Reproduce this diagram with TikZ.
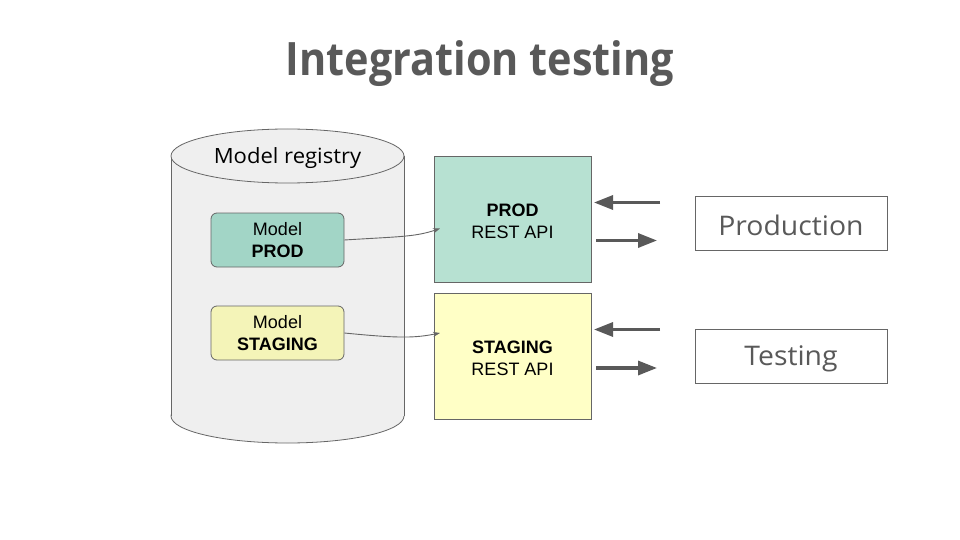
\documentclass[tikz,border=0pt]{standalone}
\usepackage{fontspec}
\setmainfont{Liberation Sans}
\newfontfamily\robo{Open Sans}
\newfontfamily\robowide[FakeStretch=1.05]{Open Sans}
\newfontfamily\robotitle[FakeStretch=0.9]{Open Sans}
\usetikzlibrary{arrows.meta}
\definecolor{txtgray}{HTML}{595959}
\definecolor{edgegray}{HTML}{666666}
\definecolor{cylfill}{HTML}{EFEFEF}
\definecolor{prodmodel}{HTML}{A2D5C6}
\definecolor{prodapi}{HTML}{B7E1D2}
\definecolor{stagemodel}{HTML}{F4F4B8}
\definecolor{stageapi}{HTML}{FFFFC6}
\tikzset{
  modelbox/.style={draw=edgegray, line width=0.8pt, rounded corners=6pt, minimum width=133pt, minimum height=54pt, align=center, font=\fontsize{18}{22}\selectfont, inner sep=0pt},
  apibox/.style={draw=edgegray, line width=0.8pt, minimum width=157pt, minimum height=126pt, align=center, font=\fontsize{18}{22}\selectfont, inner sep=0pt},
  envbox/.style={draw=edgegray, line width=0.8pt, fill=white, minimum width=192pt, minimum height=54pt, font=\robowide\fontsize{27}{30}\selectfont, text=txtgray, inner sep=0pt},
  thinconn/.style={draw=edgegray, line width=0.9pt, -{Stealth[length=7pt,width=5pt]}},
  bigarrow/.style={draw=txtgray, line width=3.3pt, -{Triangle[length=19pt,width=14pt]}},
}
\begin{document}
\begin{tikzpicture}[x=1pt,y=-1pt]
\useasboundingbox (0,0) rectangle (960,540);
\fill[white] (0,0) rectangle (960,540);
% title
\node[font=\robotitle\bfseries\fontsize{46}{56}\selectfont, text=txtgray] (title) at (480,64) {Integration testing};
% cylinder
\draw[fill=cylfill, draw=edgegray, line width=0.8pt] (287.5,416) ellipse [x radius=116.5pt, y radius=27pt];
\fill[cylfill] (171,156) rectangle (404,416);
\draw[edgegray, line width=0.8pt] (171,156) -- (171,416) (404,156) -- (404,416);
\draw[fill=cylfill, draw=edgegray, line width=0.8pt] (287.5,156) ellipse [x radius=116.5pt, y radius=27pt];
\node[font=\robowide\fontsize{21}{24}\selectfont] (registry) at (287.5,158.5) {Model registry};
% model boxes
\node[modelbox, fill=prodmodel] (mprod) at (277.5,240) {Model\\\textbf{PROD}};
\node[modelbox, fill=stagemodel] (mstage) at (277.5,333) {Model\\\textbf{STAGING}};
% api boxes
\node[apibox, fill=prodapi] (aprod) at (512.5,219) {};
\node[font=\fontsize{18}{22}\selectfont, align=center] (aprodtext) at (512.5,221) {\textbf{PROD}\\REST API};
\node[apibox, fill=stageapi] (astage) at (512.5,356) {};
\node[font=\fontsize{18}{22}\selectfont, align=center] (astagetext) at (512.5,358) {\textbf{STAGING}\\REST API};
% env boxes
\node[envbox] (production) at (791,223) {};
\node[font=\robowide\fontsize{27}{30}\selectfont, text=txtgray] (productiontext) at (791,225.5) {Production};
\node[envbox] (testing) at (791,356) {};
\node[font=\robowide\fontsize{27}{30}\selectfont, text=txtgray] (testingtext) at (791,358.5) {Testing};
% connectors
\coordinate (cprod) at (440,228.5);
\coordinate (cstage) at (440,333);
\draw[thinconn] (mprod.east) .. controls (400,236.5) and (415,237) .. (cprod);
\draw[thinconn] (mstage.east) .. controls (400,338.5) and (415,338) .. (cstage);
% big arrows
\coordinate (p1s) at (660,202.5);
\coordinate (p1e) at (594,202.5);
\coordinate (p2s) at (596,240.5);
\coordinate (p2e) at (657,240.5);
\coordinate (s1s) at (660,329.5);
\coordinate (s1e) at (594,329.5);
\coordinate (s2s) at (596,368);
\coordinate (s2e) at (657,368);
\draw[bigarrow] (p1s) -- (p1e);
\draw[bigarrow] (p2s) -- (p2e);
\draw[bigarrow] (s1s) -- (s1e);
\draw[bigarrow] (s2s) -- (s2e);
\end{tikzpicture}
\end{document}
